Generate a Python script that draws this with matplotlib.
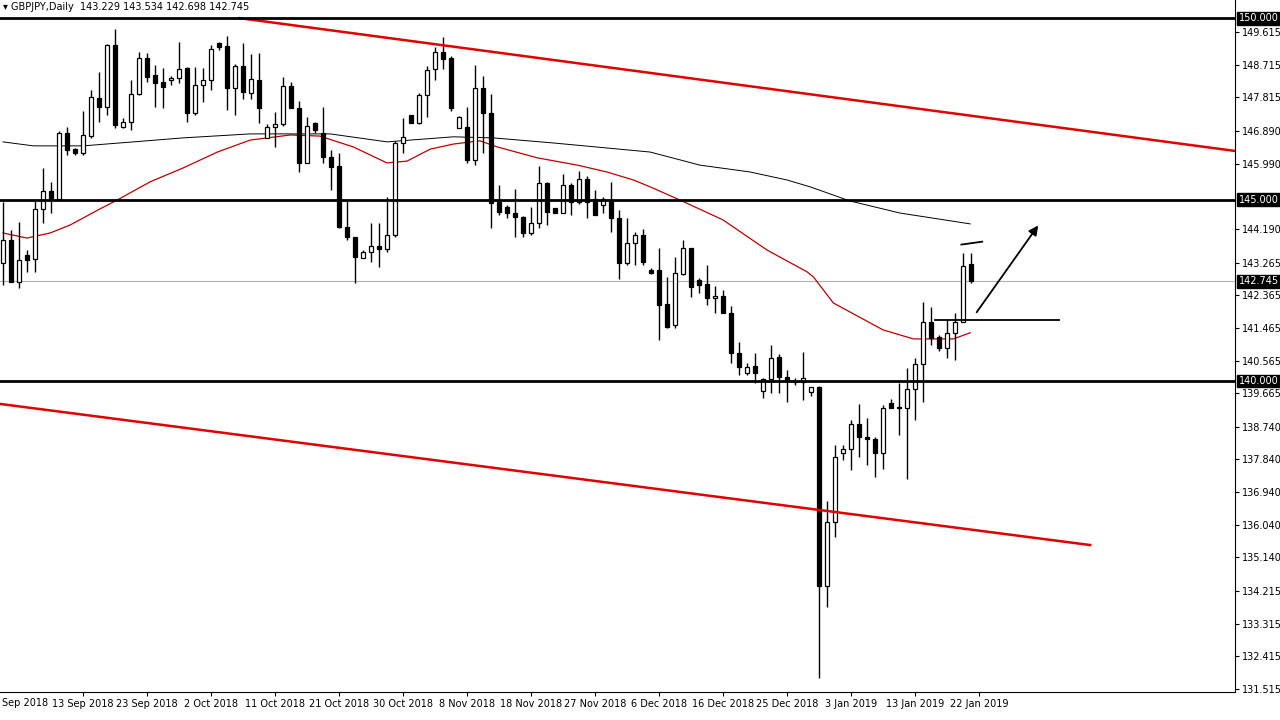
import numpy as np
import matplotlib
matplotlib.use("Agg")
import matplotlib.pyplot as plt

# ---- DATA (GBPJPY daily) ----
opens = [143.25, 143.89, 142.73, 143.47, 143.36, 144.74, 145.24, 145.02, 146.84, 146.40,
         146.28, 146.75, 147.80, 147.55, 149.26, 147.00, 147.14, 147.91, 148.90, 148.43,
         148.24, 148.30, 148.35, 148.63, 147.39, 148.16, 148.30, 149.32, 149.23, 148.08,
         148.68, 147.94, 148.30, 146.70, 147.00, 147.08, 148.13, 147.52, 146.01, 147.11,
         146.84, 146.17, 145.93, 144.25, 143.97, 143.39, 143.56, 143.72, 143.64, 144.03,
         146.56, 147.33, 147.11, 147.88, 148.60, 149.07, 148.90, 146.97, 147.00, 146.09,
         148.08, 147.39, 144.93, 144.80, 144.63, 144.52, 144.08, 144.36, 145.46, 144.77,
         144.63, 145.40, 144.93, 145.57, 145.02, 144.85, 144.99, 144.49, 143.25, 143.80,
         144.03, 143.06, 143.06, 142.12, 141.55, 142.95, 143.67, 142.79, 142.68, 142.29,
         142.35, 141.88, 140.77, 140.22, 140.42, 139.73, 140.06, 140.66, 140.11, 140.00,
         139.98, 139.70, 139.84, 134.36, 136.12, 138.02, 138.13, 138.82, 138.46, 138.41,
         138.02, 139.40, 139.29, 139.26, 139.78, 140.47, 141.63, 141.22, 140.91, 141.33,
         141.63, 143.229]
closes = [143.89, 142.73, 143.34, 143.34, 144.74, 145.24, 145.02, 146.84, 146.37, 146.28,
          146.78, 147.83, 147.55, 149.26, 147.06, 147.14, 147.91, 148.90, 148.38, 148.21,
          148.10, 148.35, 148.60, 147.39, 148.16, 148.30, 149.15, 149.21, 148.08, 148.68,
          147.97, 148.32, 147.52, 147.00, 147.08, 148.13, 147.52, 146.01, 147.03, 146.92,
          146.17, 145.90, 144.25, 143.97, 143.42, 143.56, 143.72, 143.64, 144.03, 146.56,
          146.73, 147.11, 147.88, 148.57, 149.07, 148.87, 147.52, 147.28, 146.09, 148.08,
          147.39, 144.91, 144.66, 144.63, 144.52, 144.08, 144.36, 145.46, 144.66, 144.63,
          145.40, 144.93, 145.57, 144.93, 144.58, 145.02, 144.49, 143.25, 143.80, 144.03,
          143.28, 142.98, 142.10, 141.49, 142.98, 143.67, 142.59, 142.65, 142.29, 142.35,
          141.88, 140.77, 140.39, 140.39, 140.22, 140.06, 140.64, 140.11, 140.00, 139.98,
          140.09, 139.84, 134.36, 136.12, 137.91, 138.13, 138.82, 138.46, 138.41, 138.02,
          139.26, 139.26, 139.26, 139.78, 140.47, 141.63, 141.19, 140.91, 141.33, 141.63,
          143.17, 142.745]
highs = [144.93, 144.16, 144.38, 143.61, 144.99, 145.87, 145.49, 146.88, 147.00, 146.42,
         147.44, 148.02, 148.52, 149.30, 149.70, 147.25, 148.30, 149.07, 149.04, 148.71,
         148.63, 148.41, 149.34, 148.65, 148.65, 148.63, 149.26, 149.34, 149.51, 148.74,
         149.32, 149.01, 149.04, 147.08, 147.41, 148.38, 148.24, 147.72, 147.28, 147.14,
         147.55, 146.37, 146.28, 144.99, 143.97, 143.61, 144.36, 144.36, 145.07, 146.62,
         147.25, 147.33, 147.94, 148.68, 149.21, 149.48, 148.96, 147.30, 147.55, 148.71,
         148.41, 147.91, 145.40, 144.85, 145.29, 144.55, 144.80, 145.93, 145.49, 144.77,
         145.71, 145.46, 145.79, 145.65, 145.27, 145.07, 145.49, 144.71, 144.49, 144.11,
         144.19, 143.12, 143.67, 142.87, 143.42, 143.89, 143.67, 142.84, 143.20, 142.62,
         142.51, 142.07, 141.08, 140.50, 140.77, 140.09, 140.99, 140.75, 140.31, 140.09,
         140.80, 139.84, 139.86, 136.70, 138.24, 138.24, 138.93, 139.37, 138.99, 138.46,
         139.34, 139.51, 139.95, 140.36, 140.64, 142.18, 142.04, 141.27, 141.68, 141.88,
         143.53, 143.534]
lows = [142.65, 142.73, 142.57, 143.01, 143.01, 144.36, 144.63, 144.98, 146.23, 146.23,
        146.23, 146.70, 147.14, 147.33, 146.97, 146.98, 146.92, 147.89, 148.24, 147.55,
        147.52, 148.16, 148.21, 147.14, 147.33, 147.69, 148.02, 149.12, 147.47, 147.33,
        147.77, 147.77, 147.11, 146.70, 146.45, 147.03, 147.52, 145.76, 146.01, 146.84,
        146.01, 145.27, 144.22, 143.89, 142.70, 143.39, 143.28, 143.14, 143.56, 143.97,
        146.28, 147.11, 147.08, 147.28, 148.30, 148.60, 147.44, 146.97, 146.01, 145.95,
        146.28, 144.22, 144.58, 144.49, 143.97, 143.97, 144.03, 144.22, 144.30, 144.63,
        144.63, 144.58, 144.88, 144.49, 144.58, 144.63, 144.11, 142.81, 143.20, 143.20,
        143.20, 142.95, 141.13, 141.46, 141.46, 142.92, 142.32, 142.43, 142.10, 141.88,
        141.88, 140.50, 140.17, 140.17, 139.95, 139.54, 139.67, 139.67, 139.42, 139.89,
        139.48, 139.59, 131.82, 133.78, 135.71, 137.83, 137.55, 137.91, 137.69, 137.36,
        137.58, 139.26, 138.52, 137.30, 138.93, 139.42, 140.99, 140.83, 140.64, 140.58,
        141.63, 142.698]

# moving averages (bar index, price)
ma_red_x = [0, 3, 5.9, 8.4, 12.1, 14.3, 18.4, 22.5, 26.8, 30.9, 35.9, 39.6, 43.8, 48, 50.5,
            53.4, 56.3, 59.6, 61.8, 66.8, 71.8, 75.5, 78.8, 80.9, 84.6, 90, 95.5, 100.5,
            101.3, 103.8, 110, 113.8, 118.8, 120.9]
ma_red_y = [144.08, 143.94, 144.08, 144.30, 144.74, 144.99, 145.49, 145.87, 146.31, 146.64,
            146.78, 146.75, 146.45, 146.01, 146.06, 146.39, 146.53, 146.62, 146.45, 146.15,
            145.95, 145.76, 145.54, 145.35, 144.99, 144.44, 143.61, 143.01, 142.87, 142.15,
            141.41, 141.16, 141.16, 141.33]
ma_blk_x = [0, 3.8, 10, 16.3, 22.5, 30.9, 40.9, 48, 56.3, 61.3, 68.8, 80.9, 87.1, 93.4,
            98, 100.9, 105.9, 112.1, 120.9]
ma_blk_y = [146.59, 146.48, 146.48, 146.59, 146.70, 146.81, 146.81, 146.59, 146.73, 146.70,
            146.56, 146.31, 145.95, 145.76, 145.54, 145.35, 144.96, 144.63, 144.33]

# channel lines drawn on the chart (bar index, price)
upper_x, upper_y = [29.6, 154], [150.00, 146.34]
lower_x, lower_y = [-0.4, 135.9], [139.37, 135.48]
levels = [150.0, 145.0, 140.0]
last_price = 142.745

y_ticks = [149.615, 148.715, 147.815, 146.890, 145.990, 144.190, 143.265, 142.365,
           141.465, 140.565, 139.665, 138.740, 137.840, 136.940, 136.040, 135.140,
           134.215, 133.315, 132.415, 131.515]
date_labels = ["Sep 2018", "13 Sep 2018", "23 Sep 2018", "2 Oct 2018", "11 Oct 2018",
               "21 Oct 2018", "30 Oct 2018", "8 Nov 2018", "18 Nov 2018", "27 Nov 2018",
               "6 Dec 2018", "16 Dec 2018", "25 Dec 2018", "3 Jan 2019", "13 Jan 2019",
               "22 Jan 2019"]
date_pos = [2 + 8 * k for k in range(len(date_labels))]

# ---- PLOT ----
fig = plt.figure(figsize=(12.8, 7.2), dpi=100)
ax = fig.add_axes([0, 1 - 692 / 720, 1235 / 1280, 692 / 720])
ax.set_xlim(-0.375, 154)
ax.set_ylim(131.43, 150.50)

o, c, h, l = map(np.array, (opens, closes, highs, lows))
idx = np.arange(len(o))
ax.vlines(idx, l, h, color="black", lw=1, zorder=3)
up = c >= o
body = np.maximum(np.abs(c - o), 0.02)
ax.bar(idx[up], body[up], bottom=np.minimum(o, c)[up], width=0.62,
       color="white", edgecolor="black", lw=0.9, zorder=4)
ax.bar(idx[~up], body[~up], bottom=np.minimum(o, c)[~up], width=0.62,
       color="black", edgecolor="black", lw=0.9, zorder=4)

ax.plot(ma_red_x, ma_red_y, color="#c00000", lw=0.9, zorder=2)
ax.plot(ma_blk_x, ma_blk_y, color="black", lw=0.7, zorder=2)
ax.plot(upper_x, upper_y, color="#e00000", lw=1.8, zorder=5)
ax.plot(lower_x, lower_y, color="#e00000", lw=1.8, zorder=5)
for lv in levels:
    ax.axhline(lv, color="black", lw=2, zorder=5)
ax.axhline(last_price, color="#b0b0b0", lw=0.8, zorder=1)

# hand-drawn marks
ax.plot([116.5, 132], [141.68, 141.68], color="black", lw=1.3, zorder=6)
ax.plot([119.8, 122.4], [143.76, 143.84], color="black", lw=1.3, zorder=6)
ax.annotate("", xy=(129.6, 144.35), xytext=(121.5, 141.83),
            arrowprops=dict(arrowstyle="-|>", color="black", lw=1.3, mutation_scale=14))

# axis styling
for s in ["top", "left"]:
    ax.spines[s].set_visible(False)
ax.yaxis.tick_right()
ax.set_yticks(y_ticks)
ax.set_yticklabels([f"{v:.3f}" for v in y_ticks], fontsize=7)
ax.set_xticks(date_pos[1:])
ax.set_xticklabels(date_labels[1:], fontsize=7)
ax.tick_params(length=3, width=0.8, pad=2)
ax.text(0.002, -0.008, date_labels[0], transform=ax.transAxes, fontsize=7,
        ha="left", va="top")

for lv in levels + [last_price]:
    ax.text(1.003, lv, f"{lv:.3f}", transform=ax.get_yaxis_transform(), fontsize=7,
            color="white", va="center", ha="left",
            bbox=dict(boxstyle="square,pad=0.15", fc="black", ec="black"))

fig.text(0.002, 0.997, "▾ GBPJPY,Daily  143.229 143.534 142.698 142.745", fontsize=7,
         va="top", ha="left")

fig.savefig("out.png", dpi=100)
